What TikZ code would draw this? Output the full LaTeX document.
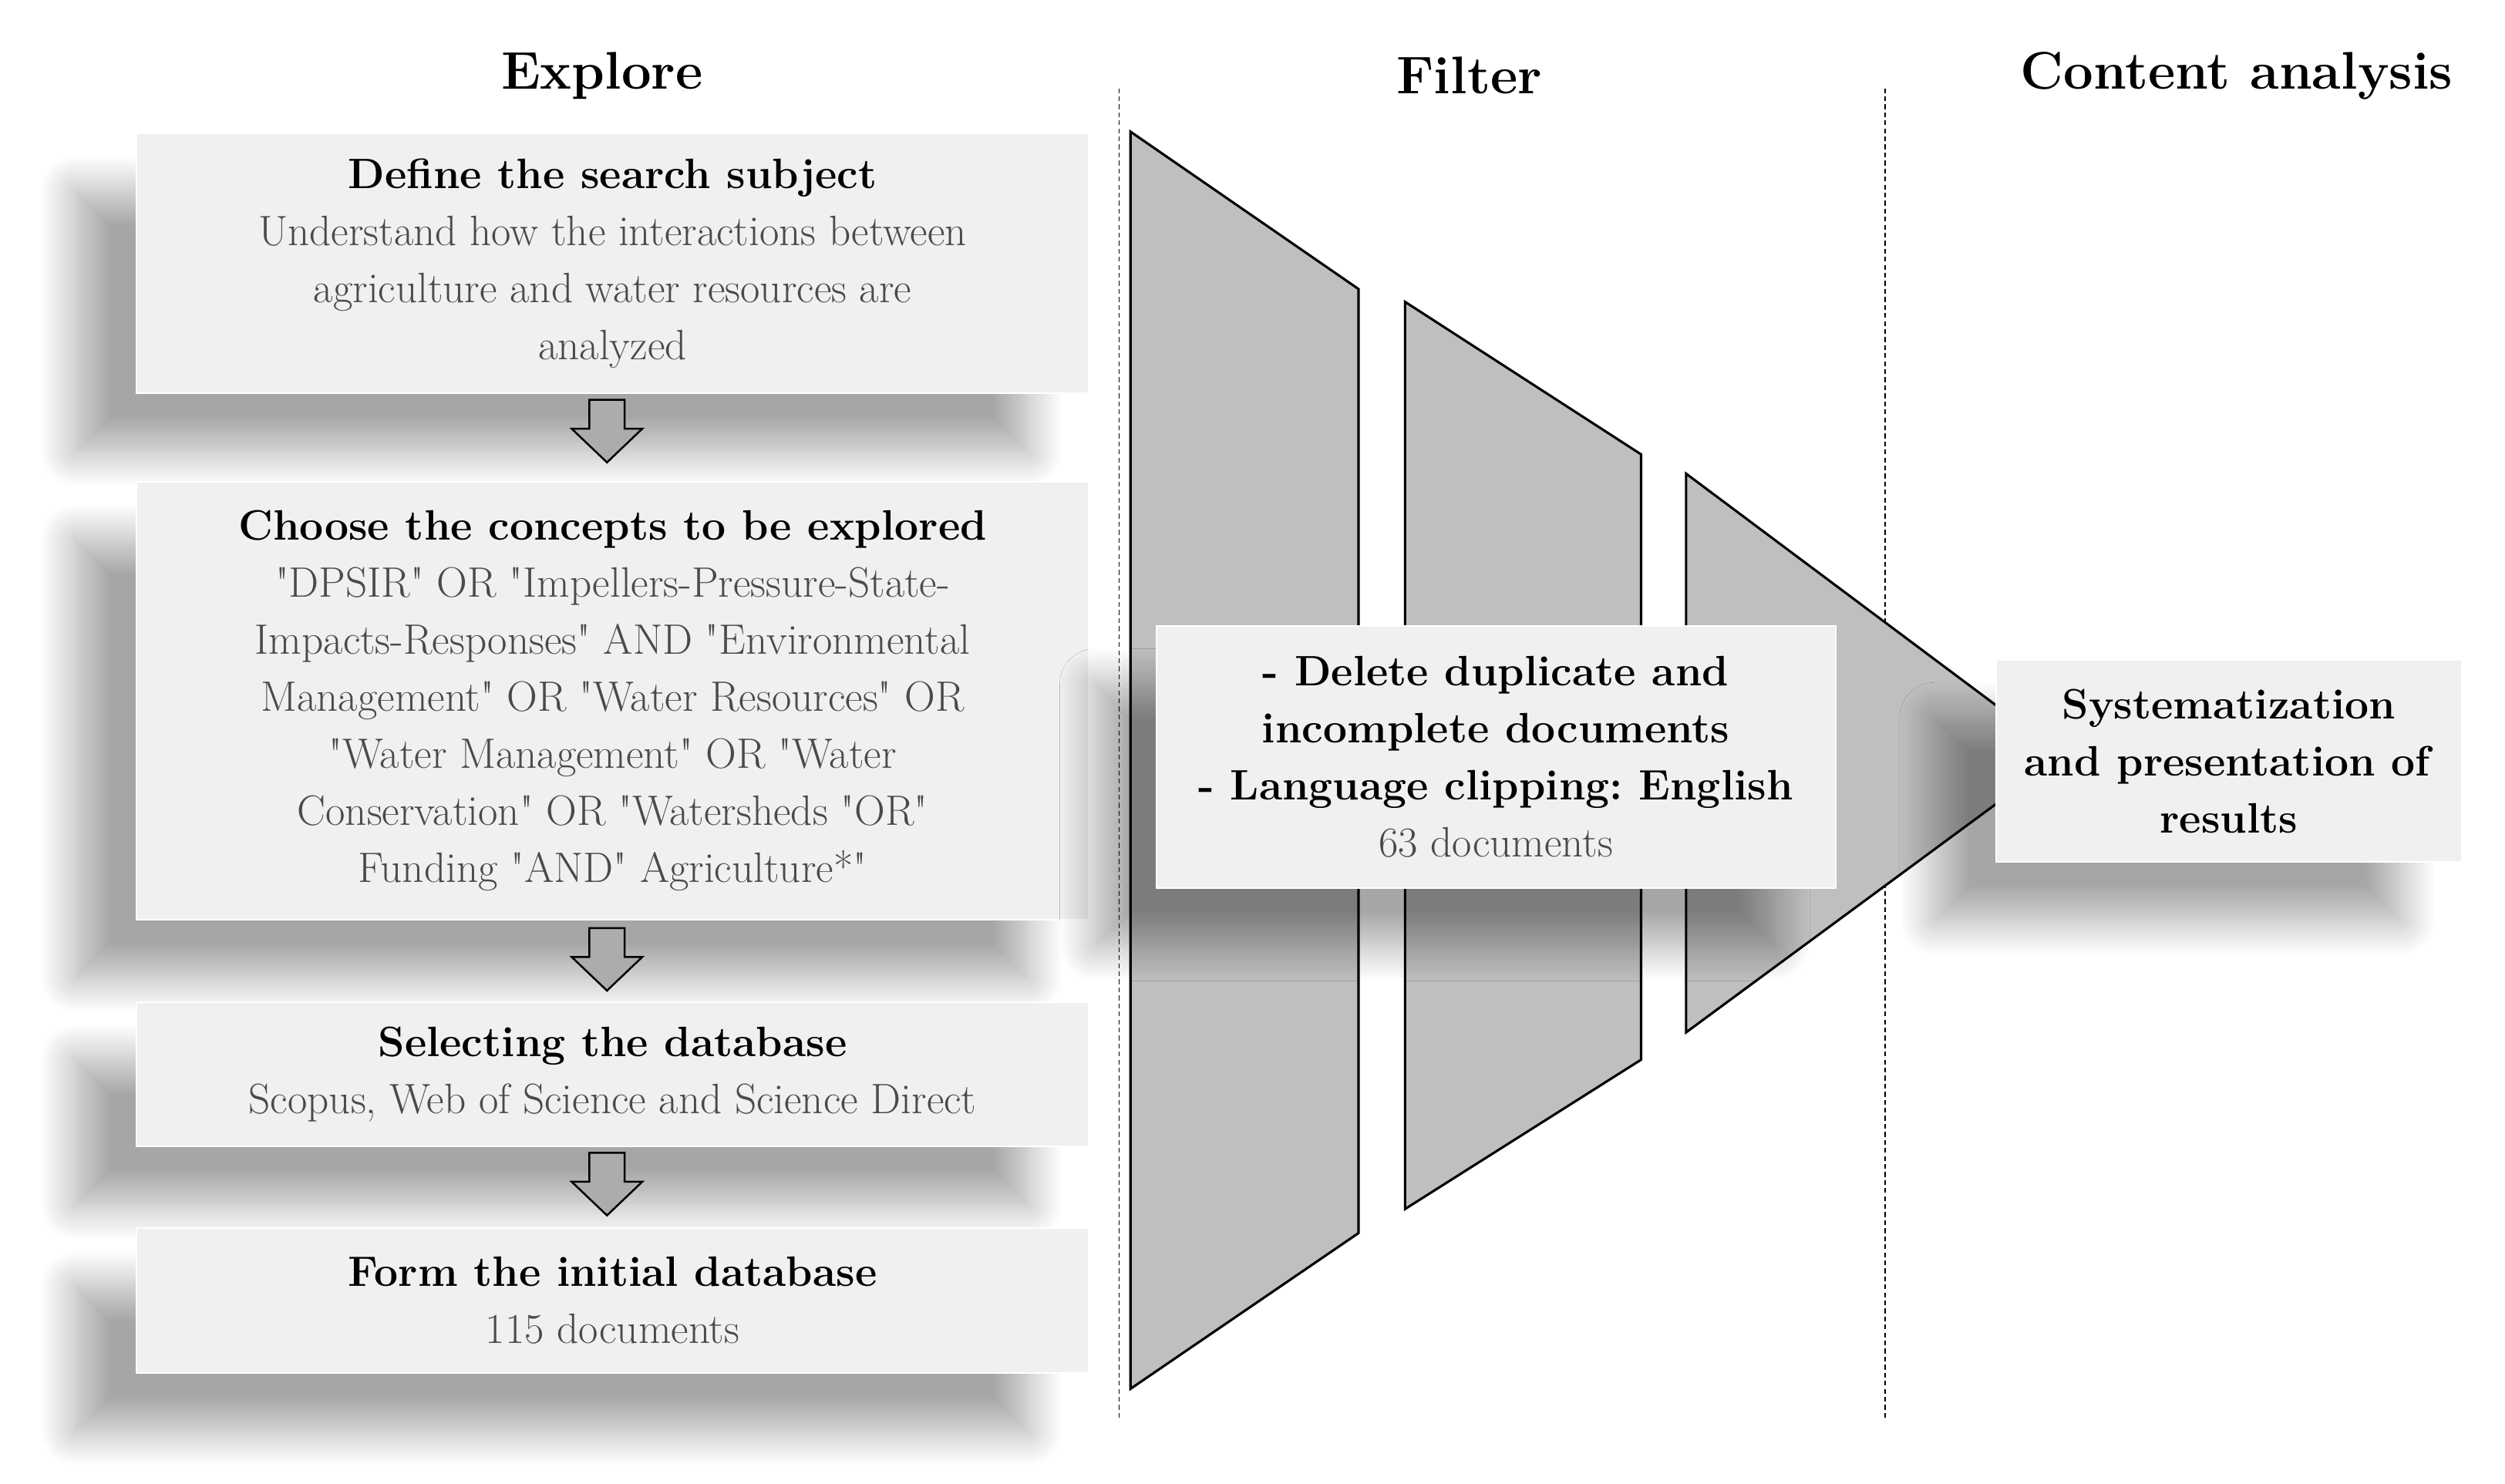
\documentclass[tikz,border=0pt]{standalone}
\usepackage{fontspec}
\usepackage{tikz}
\usetikzlibrary{shadows.blur,calc}
\definecolor{boxfill}{HTML}{F0F0F0}
\definecolor{trapfill}{HTML}{BFBFBF}
\definecolor{txtgray}{HTML}{4A4A4A}
\newcommand\qq{\textquotedbl}
\begin{document}
\begin{tikzpicture}[x=1pt,y=-1pt,
  box/.style={fill=boxfill,draw=white,line width=1pt,inner sep=0pt,align=center,
    font=\fontsize{26.5}{35.5}\selectfont,
    blur shadow={shadow xshift=-38pt,shadow yshift=-36pt,shadow opacity=35,shadow blur radius=22pt,shadow blur steps=20}},
  head/.style={font=\fontsize{33}{38}\selectfont\bfseries},
  darr/.style={draw=black,fill=gray!65,line width=1.2pt,line join=miter},
  trap/.style={fill=trapfill,draw=black,line width=1.5pt},
  sep/.style={line width=0.8pt,dash pattern=on 3pt off 2pt}]
\useasboundingbox (0,0) rectangle (1560,924);
\node[head] (h1) at (375,47) {Explore};
\node[head] (h2) at (915,47) {Filter};
\node[head] (h3) at (1393,47) {Content analysis};
\coordinate (d1a) at (697,55); \coordinate (d1b) at (697,885);
\coordinate (d2a) at (1174,55); \coordinate (d2b) at (1174,885);
\draw[sep] (d1a) -- (d1b);
\draw[sep] (d2a) -- (d2b);
% trapezoids
\draw[trap] (704,82) -- (846,180) -- (846,768) -- (704,865) -- cycle;
\draw[trap] (875,188) -- (1022,283) -- (1022,660) -- (875,753) -- cycle;
\draw[trap] (1050,295) -- (1244,440) -- (1244,500) -- (1050,643) -- cycle;
% boxes
\node[box,minimum width=593pt,minimum height=162pt] (b1) at (381.5,164) {\textbf{Define the search subject}\\
 \textcolor{txtgray}{Understand how the interactions between}\\ \textcolor{txtgray}{agriculture and water resources are}\\ \textcolor{txtgray}{analyzed}};
\node[box,minimum width=593pt,minimum height=273pt] (b2) at (381.5,436.5) {\textbf{Choose the concepts to be explored}\\
 \textcolor{txtgray}{\qq DPSIR\qq{} OR \qq Impellers-Pressure-State-}\\
 \textcolor{txtgray}{Impacts-Responses\qq{} AND \qq Environmental}\\
 \textcolor{txtgray}{Management\qq{} OR \qq Water Resources\qq{} OR}\\
 \textcolor{txtgray}{\qq Water Management\qq{} OR \qq Water}\\
 \textcolor{txtgray}{Conservation\qq{} OR \qq Watersheds \qq OR\qq}\\
 \textcolor{txtgray}{Funding \qq AND\qq{} Agriculture*\qq}};
\node[box,minimum width=593pt,minimum height=90pt] (b3) at (381.5,669) {\textbf{Selecting the database}\\
 \textcolor{txtgray}{Scopus, Web of Science and Science Direct}};
\node[box,minimum width=593pt,minimum height=90pt] (b4) at (381.5,810) {\textbf{Form the initial database}\\
 \textcolor{txtgray}{115 documents}};
\coordinate (a1) at (378,249);
\coordinate (a2) at (378,578);
\coordinate (a3) at (378,718);
\foreach \a in {a1,a2,a3}{
  \draw[darr] ($(\a)+(-11,0)$) -- ($(\a)+(11,0)$) -- ($(\a)+(11,18)$) -- ($(\a)+(22,18)$)
    -- ($(\a)+(0,39)$) -- ($(\a)+(-22,18)$) -- ($(\a)+(-11,18)$) -- cycle;}
\node[box,minimum width=423pt,minimum height=163pt] (f) at (931.5,471.5) {\textbf{- Delete duplicate and}\\ \textbf{incomplete documents}\\ \textbf{- Language clipping:\ English}\\ \textcolor{txtgray}{63 documents}};
\node[box,minimum width=290pt,minimum height=126pt] (s) at (1388,474) {\textbf{Systematization}\\ \textbf{and presentation of}\\ \textbf{results}};
\end{tikzpicture}
\end{document}
